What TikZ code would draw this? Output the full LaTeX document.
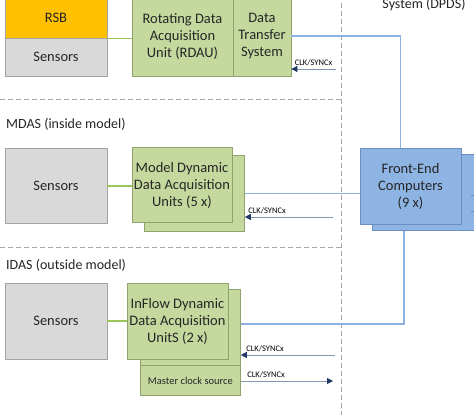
\documentclass[tikz,border=0pt]{standalone}
\usepackage{fontspec}
\setmainfont{Carlito}
\usetikzlibrary{arrows.meta,calc}
\definecolor{unitgreen}{HTML}{C5D89E}
\definecolor{unitedge}{HTML}{8FA36C}
\definecolor{sensgray}{HTML}{D9D9D9}
\definecolor{sensedge}{HTML}{A3A3A3}
\definecolor{rsbor}{HTML}{FFC000}
\definecolor{fecblue}{HTML}{8EB4E3}
\definecolor{fecedge}{HTML}{6C8EC0}
\definecolor{linkblue}{HTML}{8DB1E0}
\definecolor{linkgreen}{HTML}{9BC45A}
\definecolor{clkline}{HTML}{8497B0}
\definecolor{clktip}{HTML}{1F3864}
\definecolor{dashgray}{HTML}{A6A6A6}
\tikzset{>=stealth,
  box/.style={draw,line width=0.8pt,inner sep=0pt,align=center,text=black!85,font=\fontsize{14.5}{17}\selectfont},
  sensbox/.style={box,fill=sensgray,draw=sensedge,minimum width=102pt},
  unitbox/.style={box,fill=unitgreen,draw=unitedge,minimum width=101pt,minimum height=76pt},
  fecbox/.style={box,fill=fecblue,draw=fecedge,minimum width=101pt,minimum height=76pt},
  border/.style={dashgray,line width=1pt,dash pattern=on 5pt off 3pt},
  bluelink/.style={linkblue,line width=1.2pt},
  greenlink/.style={linkgreen,line width=1.2pt},
  clk/.style={clkline,line width=0.9pt,-{Triangle[length=6pt,width=6pt,color=clktip]}},
  clklabel/.style={font=\fontsize{8.5}{9}\selectfont,text=black,inner sep=1pt,anchor=south west},
  area/.style={font=\fontsize{14}{16}\selectfont,text=black!85,anchor=west,inner sep=0pt}
}
\begin{document}
\begin{tikzpicture}[x=1pt,y=-1pt]
\useasboundingbox (0,0) rectangle (474,415);
\clip (0,0) rectangle (474,415);
\fill[white] (0,0) rectangle (474,415);
% areas
\draw[border] (0,99) -- (341,99);
\draw[border] (0,247) -- (341,247);
\draw[border] (341,-5) -- (341,420);
\node[area] (mdas) at (6,124) {MDAS (inside model)};
\node[area] (idas) at (6,265) {IDAS (outside model)};
\node[area,anchor=base] (dpds) at (424,9) {System (DPDS)};
% rotating part
\node[box,fill=rsbor,draw=sensedge,minimum width=102pt,minimum height=40pt] (rsb) at (56,18) {RSB};
\node[sensbox,minimum height=38pt] (sens1) at (56,57) {Sensors};
\node[unitbox,minimum height=80pt] (rdau) at (182.5,36) {Rotating Data\\Acquisition\\Unit (RDAU)};
\node[unitbox,minimum width=58pt,minimum height=80pt] (dts) at (262,36) {Data\\Transfer\\System};
% front-end
\node[fecbox,minimum width=113pt,anchor=north west] (fecb) at (372,154) {};
\node[fecbox] (fec) at (410.5,186) {Front-End\\Computers\\(9 x)};
\draw[fecedge,line width=0.6pt] (471,195) -- (480,195);
\draw[fecedge,line width=0.6pt] (471,211) -- (480,211);
% model units
\node[sensbox,minimum height=75pt] (sens2) at (56,186) {Sensors};
\node[unitbox,minimum width=100pt,anchor=north west] (mdaub) at (144,155) {};
\node[unitbox,minimum width=100pt,minimum height=75pt] (mdau) at (182,185) {Model Dynamic\\Data Acquisition\\Units (5 x)};
% inflow units
\node[sensbox,minimum height=76pt] (sens3) at (56,321) {Sensors};
\node[unitbox,minimum width=100pt,anchor=north west] (idaub) at (140,289) {};
\node[unitbox] (idau) at (177.5,321) {InFlow Dynamic\\Data Acquisition\\UnitS (2 x)};
\node[unitbox,minimum width=100pt,minimum height=30pt,font=\fontsize{10.5}{12}\selectfont,anchor=north west] (mcs) at (140,365) {Master clock source};
% links
\draw[greenlink] (rsb.south east) -- (rsb.south east -| rdau.west);
\draw[greenlink] (sens2.east) -- (sens2.east -| mdau.west);
\draw[greenlink] (sens3.east) -- (sens3.east -| idau.west);
\draw[bluelink] (dts.east) -| ([xshift=-10pt]fec.north);
\draw[bluelink] (mdaub.east) -- (mdaub.east -| fec.west);
\coordinate (turn) at (404,324);
\draw[bluelink] (fecb.south -| turn) -- (turn) -- (turn -| idaub.east);
% clocks
\coordinate (clk1) at (336,69);
\coordinate (clk2) at (333,217);
\coordinate (clk3) at (335,355);
\coordinate (clk4) at (333,381);
\draw[clk] (clk1) -- (clk1 -| dts.east) node[clklabel,xshift=2pt,yshift=2pt] {CLK/SYNCx};
\draw[clk] (clk2) -- (clk2 -| mdaub.east) node[clklabel,xshift=2pt,yshift=2pt] {CLK/SYNCx};
\draw[clk] (clk3) -- (clk3 -| idaub.east) node[clklabel,xshift=4pt,yshift=2pt] {CLK/SYNCx};
\draw[clk] (mcs.east |- clk4) node[clklabel,xshift=5pt,yshift=2pt] {CLK/SYNCx} -- (clk4);
\end{tikzpicture}
\end{document}
